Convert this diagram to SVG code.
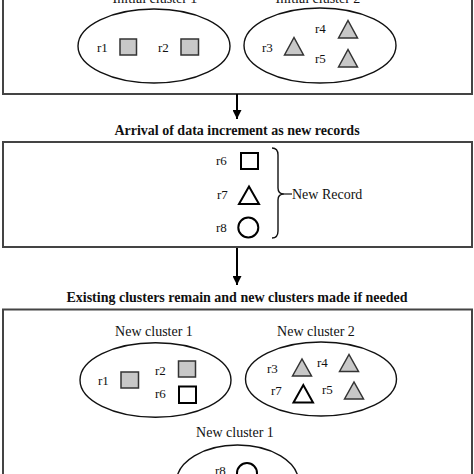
<svg xmlns="http://www.w3.org/2000/svg" width="474" height="474" viewBox="0 0 474 474">
<defs>
<style>
.t{font-family:"Liberation Serif","Times New Roman",serif;font-size:14px;fill:#111}
.lb{font-family:"Liberation Serif","Times New Roman",serif;font-size:13px;fill:#111}
.h{font-family:"Liberation Serif","Times New Roman",serif;font-size:14px;font-weight:bold;fill:#111}
.box{fill:#fff;stroke:#444;stroke-width:2}
.ell{fill:none;stroke:#111;stroke-width:1.4}
.gs{fill:#c8c8c8;stroke:#333;stroke-width:1.5}
.ws{fill:#fff;stroke:#000;stroke-width:2}
.conn{stroke:#000;stroke-width:2;fill:none}
</style>
<marker id="ah" viewBox="0 0 10 10" refX="10" refY="5" markerWidth="4.5" markerHeight="4.5" markerUnits="strokeWidth" orient="auto">
<path d="M0,0 L10,5 L0,10 z" fill="#000"/>
</marker>
</defs>
<rect width="474" height="474" fill="#fff"/>

<g id="box-initial">
<rect class="box" x="3" y="-20" width="469" height="114"/>
<g id="initial-cluster-1">
<text class="t" x="155" y="3" text-anchor="middle">Initial cluster 1</text>
<ellipse class="ell" cx="154" cy="46" rx="76" ry="37"/>
<text class="lb" x="97" y="52">r1</text>
<rect class="gs" x="120" y="39" width="16.5" height="16"/>
<text class="lb" x="158" y="52">r2</text>
<rect class="gs" x="181" y="39" width="17.5" height="16"/>
</g>
<g id="initial-cluster-2">
<text class="t" x="318" y="3" text-anchor="middle">Initial cluster 2</text>
<ellipse class="ell" cx="320" cy="45.5" rx="76" ry="37.5"/>
<text class="lb" x="262" y="52">r3</text>
<polygon class="gs" points="284.5,55 294,37.5 303.5,55"/>
<text class="lb" x="315" y="33">r4</text>
<polygon class="gs" points="338.5,38 348,20.5 357.5,38"/>
<text class="lb" x="315" y="63">r5</text>
<polygon class="gs" points="338.5,67 348,49.5 357.5,67"/>
</g>
</g>

<g id="connectors">
<line class="conn" x1="237" y1="94" x2="237" y2="119" marker-end="url(#ah)"/>
<line class="conn" x1="237" y1="247" x2="237" y2="285" marker-end="url(#ah)"/>
</g>

<g id="step-2">
<text class="h" x="237" y="135" text-anchor="middle">Arrival of data increment as new records</text>
<rect class="box" x="3" y="142" width="469" height="105"/>
<text class="lb" x="216" y="165">r6</text>
<rect class="ws" x="241" y="153" width="17" height="16"/>
<text class="lb" x="217" y="199">r7</text>
<polygon class="ws" points="239,204 249,186.5 259,204"/>
<text class="lb" x="216" y="232">r8</text>
<circle class="ws" cx="248.3" cy="227.5" r="10" stroke-width="1.6"/>
<path d="M272,148 Q278,148 278,155 L278,188 Q278,194 284,194 Q278,194 278,200 L278,231 Q278,238 272,238" fill="none" stroke="#111" stroke-width="1.4"/>
<line x1="284" y1="194" x2="292" y2="194" stroke="#111" stroke-width="1.2"/>
<text class="t" x="292" y="199">New Record</text>
</g>

<g id="step-3">
<text class="h" x="237" y="302" text-anchor="middle">Existing clusters remain and new clusters made if needed</text>
<rect class="box" x="3" y="309.5" width="469" height="180"/>
<g id="new-cluster-1">
<text class="t" x="154" y="336" text-anchor="middle">New cluster 1</text>
<ellipse class="ell" cx="155.5" cy="380" rx="75.5" ry="37.3"/>
<text class="lb" x="98" y="385">r1</text>
<rect class="gs" x="121" y="372" width="17.5" height="16"/>
<text class="lb" x="155" y="375">r2</text>
<rect class="gs" x="178.5" y="361" width="17" height="16"/>
<text class="lb" x="155" y="398">r6</text>
<rect class="ws" x="179" y="386.5" width="17" height="16.5"/>
</g>
<g id="new-cluster-2">
<text class="t" x="316" y="336" text-anchor="middle">New cluster 2</text>
<ellipse class="ell" cx="321" cy="379" rx="75.5" ry="37"/>
<text class="lb" x="267" y="373">r3</text>
<polygon class="gs" points="292.5,376 302,359 311.5,376"/>
<text class="lb" x="317" y="367">r4</text>
<polygon class="gs" points="339.5,371.5 349,354.5 358.5,371.5"/>
<text class="lb" x="271" y="395">r7</text>
<polygon class="ws" points="293.5,402.5 303.3,385 313,402.5"/>
<text class="lb" x="322" y="394">r5</text>
<polygon class="gs" points="344.5,399 354,382 363.5,399"/>
</g>
<g id="new-cluster-3">
<text class="t" x="235" y="437" text-anchor="middle">New cluster 1</text>
<ellipse class="ell" cx="237.5" cy="482" rx="61" ry="37"/>
<text class="lb" x="215" y="475">r8</text>
<circle class="ws" cx="247" cy="473" r="10" stroke-width="1.6"/>
</g>
</g>
</svg>
